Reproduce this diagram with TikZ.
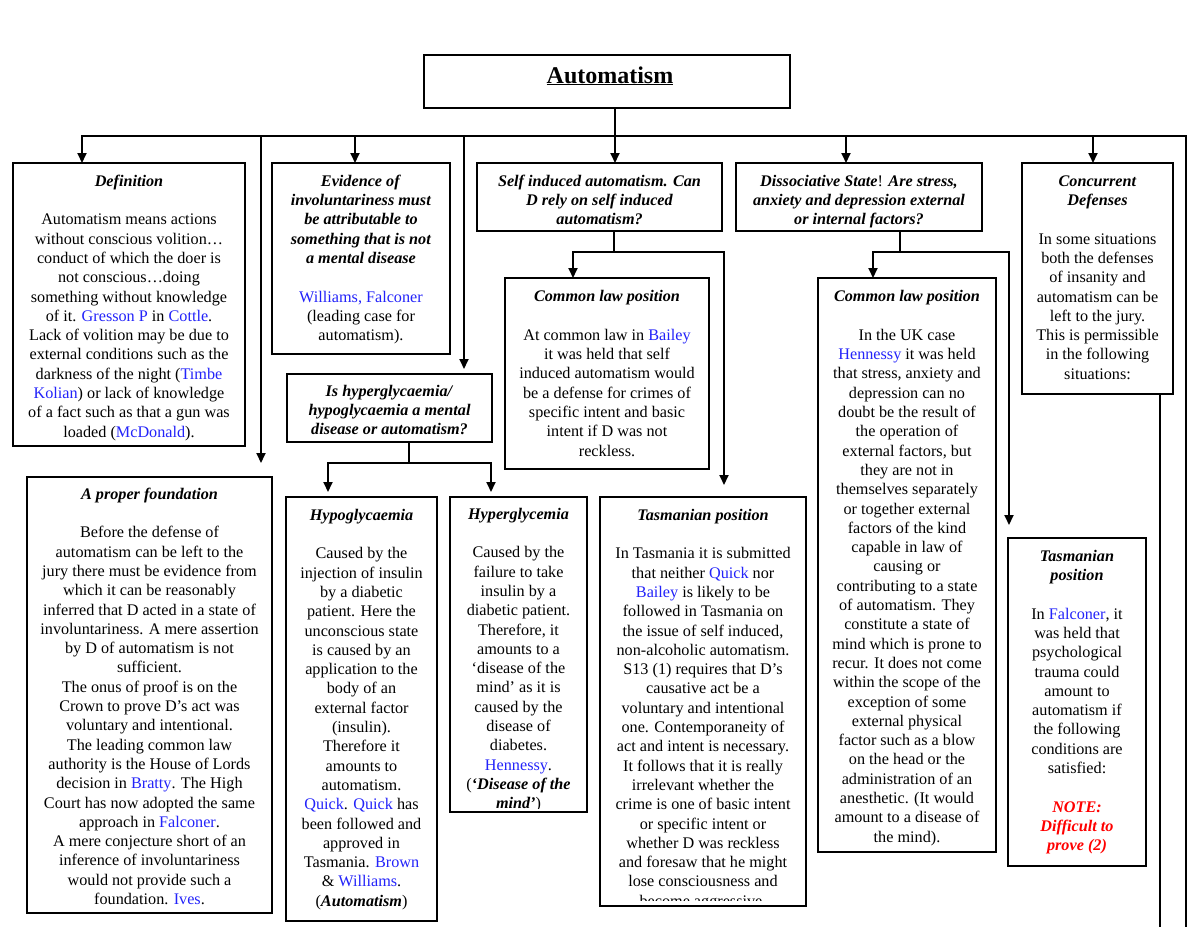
\documentclass[tikz,border=0pt]{standalone}
\usepackage{fontspec}
\setmainfont{Liberation Serif}
\usetikzlibrary{arrows.meta}
\definecolor{lnk}{RGB}{35,35,250}
\definecolor{note}{RGB}{255,0,0}
\newcommand{\lk}[1]{\textcolor{lnk}{#1}}
\newcommand{\hd}[1]{\textbf{\textit{#1}}}
\newcommand{\nt}[1]{\textcolor{note}{\textbf{\textit{#1}}}}
\begin{document}
\begin{tikzpicture}[x=1pt,y=-1pt,
  box/.style={draw, line width=2.1pt, inner sep=0pt, outer sep=0pt},
  txt/.style={anchor=north, align=center, inner sep=0pt, font=\fontsize{16.2}{19.3}\selectfont},
  ln/.style={line width=1.8pt},
  arr/.style={line width=1.8pt, -{Triangle[width=9pt,length=10pt]}}]
\useasboundingbox[fill=white] (0,0) rectangle (1200,927);

% ---------- boxes ----------
\node[box, minimum width=366, minimum height=53] (title) at (607,81.5) {};
\node[box, minimum width=232, minimum height=283] (def) at (129,304.5) {};
\node[box, minimum width=178, minimum height=191] (evid) at (361,258.5) {};
\node[box, minimum width=205, minimum height=68] (hypq) at (389.5,408) {};
\node[box, minimum width=245, minimum height=68] (self) at (599.5,197) {};
\node[box, minimum width=204, minimum height=191] (clpL) at (607,373.5) {};
\node[box, minimum width=246, minimum height=68] (diss) at (859,197) {};
\node[box, minimum width=178, minimum height=574] (clpR) at (907,565) {};
\node[box, minimum width=151, minimum height=231] (conc) at (1097.5,278.5) {};
\node[box, minimum width=138, minimum height=328] (tasR) at (1077,702) {};
\node[box, minimum width=245, minimum height=436] (found) at (149.5,695) {};
\node[box, minimum width=151, minimum height=424] (hypo) at (361.5,709) {};
\node[box, minimum width=137, minimum height=315] (hyper) at (518.5,654.5) {};
\node[box, minimum width=206, minimum height=409] (tasM) at (703,701.5) {};

% ---------- texts ----------
\node[anchor=base, inner sep=0pt, font=\fontsize{24}{28}\selectfont] (ttl) at (610,83) {\underline{\textbf{Automatism}}};

\node[txt] (tdef) at ([yshift=-9.5pt]def.north) {\strut\hd{Definition}\\[19.3pt]
Automatism means actions\\
without conscious volition…\\
conduct of which the doer is\\
not conscious…doing\\
something without knowledge\\
of it. \lk{Gresson P} in \lk{Cottle}.\\
Lack of volition may be due to\\
external conditions such as the\\
darkness of the night (\lk{Timbe}\\
\lk{Kolian}) or lack of knowledge\\
of a fact such as that a gun was\\
loaded (\lk{McDonald}).};

\node[txt] (tevid) at ([yshift=-9.5pt]evid.north) {\strut\hd{Evidence of}\\
\hd{involuntariness must}\\
\hd{be attributable to}\\
\hd{something that is not}\\
\hd{a mental disease}\\[19.3pt]
\lk{Williams, Falconer}\\
(leading case for\\
automatism).};

\node[txt] (thypq) at ([yshift=-8.5pt]hypq.north) {\strut\hd{Is hyperglycaemia/}\\
\hd{hypoglycaemia a mental}\\
\hd{disease or automatism?}};

\node[txt] (tself) at ([yshift=-9.5pt]self.north) {\strut\hd{Self induced automatism. Can}\\
\hd{D rely on self induced}\\
\hd{automatism?}};

\node[txt] (tclpL) at ([yshift=-10pt]clpL.north) {\strut\hd{Common law position}\\[19.3pt]
At common law in \lk{Bailey}\\
it was held that self\\
induced automatism would\\
be a defense for crimes of\\
specific intent and basic\\
intent if D was not\\
reckless.};

\node[txt] (tdiss) at ([yshift=-9.5pt]diss.north) {\strut\hd{Dissociative State}! \hd{Are stress,}\\
\hd{anxiety and depression external}\\
\hd{or internal factors?}};

\node[txt] (tclpR) at ([yshift=-10pt]clpR.north) {\strut\hd{Common law position}\\[19.3pt]
In the UK case\\
\lk{Hennessy} it was held\\
that stress, anxiety and\\
depression can no\\
doubt be the result of\\
the operation of\\
external factors, but\\
they are not in\\
themselves separately\\
or together external\\
factors of the kind\\
capable in law of\\
causing or\\
contributing to a state\\
of automatism. They\\
constitute a state of\\
mind which is prone to\\
recur. It does not come\\
within the scope of the\\
exception of some\\
external physical\\
factor such as a blow\\
on the head or the\\
administration of an\\
anesthetic. (It would\\
amount to a disease of\\
the mind).};

\node[txt] (tconc) at ([yshift=-9.5pt]conc.north) {\strut\hd{Concurrent}\\
\hd{Defenses}\\[19.3pt]
In some situations\\
both the defenses\\
of insanity and\\
automatism can be\\
left to the jury.\\
This is permissible\\
in the following\\
situations:};

\node[txt] (ttasR) at ([yshift=-9.5pt]tasR.north) {\strut\hd{Tasmanian}\\
\hd{position}\\[19.3pt]
In \lk{Falconer}, it\\
was held that\\
psychological\\
trauma could\\
amount to\\
automatism if\\
the following\\
conditions are\\
satisfied:\\[19.3pt]
\nt{NOTE:}\\
\nt{Difficult to}\\
\nt{prove (2)}};

\node[txt] (tfound) at ([yshift=-8.5pt]found.north) {\strut\hd{A proper foundation}\\[19.3pt]
Before the defense of\\
automatism can be left to the\\
jury there must be evidence from\\
which it can be reasonably\\
inferred that D acted in a state of\\
involuntariness. A mere assertion\\
by D of automatism is not\\
sufficient.\\
The onus of proof is on the\\
Crown to prove D’s act was\\
voluntary and intentional.\\
The leading common law\\
authority is the House of Lords\\
decision in \lk{Bratty}. The High\\
Court has now adopted the same\\
approach in \lk{Falconer}.\\
A mere conjecture short of an\\
inference of involuntariness\\
would not provide such a\\
foundation. \lk{Ives}.};

\node[txt] (thypo) at ([yshift=-9.5pt]hypo.north) {\strut\hd{Hypoglycaemia}\\[19.3pt]
Caused by the\\
injection of insulin\\
by a diabetic\\
patient. Here the\\
unconscious state\\
is caused by an\\
application to the\\
body of an\\
external factor\\
(insulin).\\
Therefore it\\
amounts to\\
automatism.\\
\lk{Quick}. \lk{Quick} has\\
been followed and\\
approved in\\
Tasmania. \lk{Brown}\\
\& \lk{Williams}.\\
(\hd{Automatism})};

\begin{scope}
\clip ([xshift=1pt,yshift=4pt]hyper.south west) rectangle ([xshift=-1pt,yshift=-1pt]hyper.north east);
\node[txt] (thyper) at ([yshift=-8.5pt]hyper.north) {\strut\hd{Hyperglycemia}\\[19.3pt]
Caused by the\\
failure to take\\
insulin by a\\
diabetic patient.\\
Therefore, it\\
amounts to a\\
‘disease of the\\
mind’ as it is\\
caused by the\\
disease of\\
diabetes.\\
\lk{Hennessy}.\\
(\hd{‘Disease of the}\\
\hd{mind’})};
\end{scope}

\begin{scope}
\clip ([xshift=1pt,yshift=6pt]tasM.south west) rectangle ([xshift=-1pt,yshift=-1pt]tasM.north east);
\node[txt] (ttasM) at ([yshift=-9.5pt]tasM.north) {\strut\hd{Tasmanian position}\\[19.3pt]
In Tasmania it is submitted\\
that neither \lk{Quick} nor\\
\lk{Bailey} is likely to be\\
followed in Tasmania on\\
the issue of self induced,\\
non-alcoholic automatism.\\
S13 (1) requires that D’s\\
causative act be a\\
voluntary and intentional\\
one. Contemporaneity of\\
act and intent is necessary.\\
It follows that it is really\\
irrelevant whether the\\
crime is one of basic intent\\
or specific intent or\\
whether D was reckless\\
and foresaw that he might\\
lose consciousness and\\
become aggressive.};
\end{scope}

% ---------- connectors ----------
\coordinate (tJ) at (615,136);
\coordinate (x82) at (82,136);
\coordinate (x261) at (261,136);
\coordinate (x355) at (355,136);
\coordinate (x464) at (464,136);
\coordinate (x846) at (846,136);
\coordinate (x1093) at (1093,136);
\coordinate (bR) at (1186,136);
\coordinate (bRb) at (1186,927);
\coordinate (cb) at (1160,927);
\coordinate (fT) at (261,463);
\coordinate (qT) at (464,369);

\draw[ln] (title.south -| tJ) -- (tJ);
\draw[arr] (tJ) -| (def.north -| x82);
\draw[ln] (tJ) -- (bR) -- (bRb);
\draw[arr] (x261) -- (fT);
\draw[arr] (x355) -- (evid.north -| x355);
\draw[arr] (x464) -- (qT);
\draw[arr] (tJ) -- (self.north -| tJ);
\draw[arr] (x846) -- (diss.north -| x846);
\draw[arr] (x1093) -- (conc.north -| x1093);
\draw[ln] (conc.south -| cb) -- (cb);

% self induced branch
\coordinate (sJ) at (614,252);
\coordinate (sL) at (573,252);
\coordinate (sRt) at (724,485);
\draw[ln] (self.south -| sJ) -- (sJ);
\draw[arr] (sJ) -| (clpL.north -| sL);
\draw[arr] (sJ) -| (sRt);

% dissociative branch
\coordinate (dJ) at (900,252);
\coordinate (dL) at (873,252);
\coordinate (dRt) at (1009,525);
\draw[ln] (diss.south -| dJ) -- (dJ);
\draw[arr] (dJ) -| (clpR.north -| dL);
\draw[arr] (dJ) -| (dRt);

% hyper / hypo branch
\coordinate (hJ) at (409,463);
\coordinate (hL) at (328,492);
\coordinate (hR) at (491,492);
\draw[ln] (hypq.south -| hJ) -- (hJ);
\draw[arr] (hJ) -| (hL);
\draw[arr] (hJ) -| (hR);
\end{tikzpicture}
\end{document}
